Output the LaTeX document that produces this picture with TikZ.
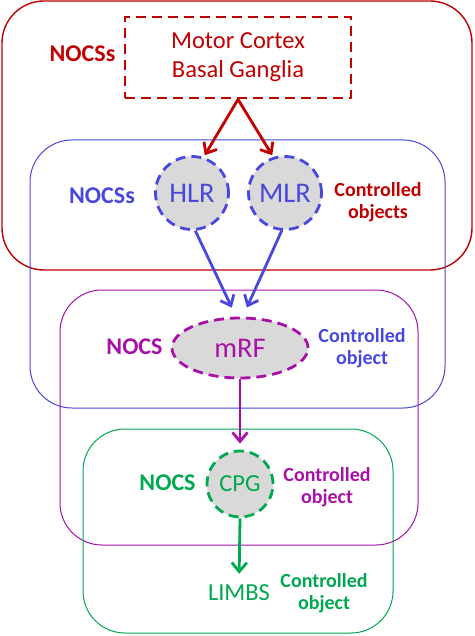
\documentclass[tikz,border=0pt]{standalone}
\usepackage{fontspec}
\setmainfont{Carlito}
\usetikzlibrary{arrows.meta,shapes.geometric}
\definecolor{cred}{RGB}{192,0,0}
\definecolor{cblue}{RGB}{72,72,222}
\definecolor{cpurple}{RGB}{168,16,168}
\definecolor{cgreen}{RGB}{0,168,80}
\definecolor{cgray}{RGB}{217,217,217}
\begin{document}
\begin{tikzpicture}[x=1pt,y=-1pt,
  frame/.style={rounded corners=42pt,line width=1pt},
  dashline/.style={line width=2.8pt,dash pattern=on 10pt off 6pt},
  unit/.style={dashline,fill=cgray,inner sep=0pt},
  big/.style={font=\fontsize{28.5}{30}\selectfont},
  mid/.style={font=\fontsize{24.5}{29}\selectfont},
  lab/.style={font=\bfseries\fontsize{24}{26}\selectfont},
  ctl/.style={font=\bfseries\fontsize{20}{22}\selectfont,align=center},
  arr/.style={line width=2.8pt,-{Straight Barb[length=9pt,width=15pt,line width=2.8pt]}},
]
\useasboundingbox (0,0) rectangle (474,636);
% frames
\draw[frame,cred,line width=1.4pt] (2,1) rectangle (472,270);
\draw[frame,cblue] (30,140) rectangle (445,408);
\draw[frame,cpurple] (60,290) rectangle (418,545);
\draw[frame,cgreen] (83,429) rectangle (393,633);
% top box
\node[draw,cred,dashline,minimum width=226pt,minimum height=81pt,mid,align=center,text=cred] (mc) at (238,57.5) {Motor Cortex\\Basal Ganglia};
\node[lab,text=cred] (l1) at (82.5,54) {NOCSs};
% HLR / MLR
\node[unit,draw=cblue,circle,minimum size=73pt,big,text=cblue] (hlr) at (192,193) {HLR};
\node[unit,draw=cblue,circle,minimum size=73pt,big,text=cblue] (mlr) at (285,193) {MLR};
\node[lab,text=cblue] (l2) at (102,196) {NOCSs};
\node[ctl,text=cred] (c1) at (378,202) {Controlled\\objects};
% mRF
\node[unit,draw=cpurple,ellipse,minimum width=136pt,minimum height=60pt,big,text=cpurple] (mrf) at (240,348) {mRF};
\node[lab,text=cpurple] (l3) at (134.5,347) {NOCS};
\node[ctl,text=cblue] (c2) at (362,348) {Controlled\\object};
% CPG
\node[unit,draw=cgreen,circle,minimum size=66pt,mid,text=cgreen] (cpg) at (240,484) {CPG};
\node[lab,text=cgreen] (l4) at (167.5,483) {NOCS};
\node[ctl,text=cpurple] (c3) at (327,487.5) {Controlled\\object};
% LIMBS
\node[mid,text=cgreen,inner sep=0pt] (limbs) at (239,593) {LIMBS};
\node[ctl,text=cgreen] (c4) at (324,593.5) {Controlled\\object};
% arrows
\draw[arr,cred,shorten >=2pt] (mc.south) -- (hlr.72);
\draw[arr,cred,shorten >=2pt] (mc.south) -- (mlr.108);
\draw[arr,cblue,shorten >=10pt] (hlr.-85) -- (mrf.97);
\draw[arr,cblue,shorten >=10pt] (mlr.-95) -- (mrf.85);
\draw[arr,cpurple,shorten >=6pt] (mrf.south) -- (cpg.north);
\draw[arr,cgreen,shorten >=11pt] (cpg.south) -- (limbs.north);
\end{tikzpicture}
\end{document}
